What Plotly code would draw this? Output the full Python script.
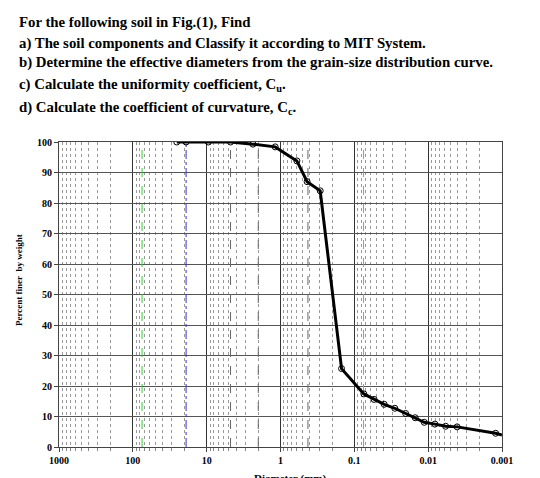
import plotly.graph_objects as go

# ---- data ----
diameter_mm = [25.4, 19.0, 9.5, 4.75, 2.36, 1.18, 0.6, 0.436, 0.29, 0.149,
               0.0743, 0.054, 0.0394, 0.0283, 0.0202, 0.015, 0.0113, 0.0081,
               0.0058, 0.00405, 0.00122]
percent_finer = [100, 100, 100, 100, 99.3, 98.4, 93.8, 87.0, 84.0, 25.7,
                 17.4, 15.6, 14.0, 12.7, 11.0, 9.6, 8.1, 7.5, 6.8, 6.6, 4.5]
curve_end_diameter = [0.001]
curve_end_percent = [3.9]

sieve_sizes = [75, 19, 4.75, 2.0, 0.425, 0.075]
sieve_colors = ["#33cc33", "#3333cc", "#666666", "#666666", "#666666", "#999999"]
sieve_dashes = ["dash", "dashdot", "dash", "dash", "dash", "dash"]

x_tick_vals = [1000, 100, 10, 1, 0.1, 0.01, 0.001]
x_tick_text = ["1000", "100", "10", "1", "0.1", "0.01", "0.001"]
decades = [100, 10, 1, 0.1, 0.01, 0.001]
minor_steps = [2, 3, 4, 5, 6, 7, 8, 9]
y_tick_vals = [0, 10, 20, 30, 40, 50, 60, 70, 80, 90, 100]

question_lines = [
    "For the following soil in Fig.(1), Find",
    "a) The soil components and Classify it according to MIT System.",
    "b) Determine the effective diameters from the grain-size distribution curve.",
    "c) Calculate the uniformity coefficient, C<sub>u</sub>.",
    "d) Calculate the coefficient of curvature, C<sub>c</sub>.",
]
question_y_px = [22, 43, 63, 85, 108]

minor_vals = [d * s for d in decades for s in minor_steps]

SERIF = "Liberation Serif, Times New Roman, serif"
OFF = 8  # page body margin
W, H = 540 - OFF, 478 - OFF
L, R, T, B = 59 - OFF, 38, 142 - OFF, 31
plot_w = W - L - R
plot_h = H - T - B


def px_x(x):
    return (x - OFF - L) / plot_w


def px_y(y):
    return (H - B - (y - OFF)) / plot_h


fig = go.Figure()

for s, c, d in zip(sieve_sizes, sieve_colors, sieve_dashes):
    fig.add_trace(go.Scatter(x=[s, s], y=[0, 100], mode="lines",
                             line=dict(color=c, width=1, dash=d),
                             hoverinfo="skip", showlegend=False))

fig.add_trace(go.Scatter(x=diameter_mm + curve_end_diameter,
                         y=percent_finer + curve_end_percent,
                         mode="lines", line=dict(color="black", width=3),
                         showlegend=False))
fig.add_trace(go.Scatter(x=diameter_mm, y=percent_finer, mode="markers",
                         marker=dict(symbol="circle-open", size=6, color="black",
                                     line=dict(width=1, color="black")),
                         showlegend=False))

for txt, ypx in zip(question_lines, question_y_px):
    fig.add_annotation(text="<b>" + txt + "</b>", xref="paper", yref="paper",
                       x=px_x(17), y=px_y(ypx),
                       xanchor="left", yanchor="middle", showarrow=False,
                       font=dict(family=SERIF, size=14.8, color="black"))

fig.add_annotation(text="<b>Percent finer  by weight</b>", xref="paper", yref="paper",
                   x=px_x(19), y=px_y(280), textangle=-90,
                   xanchor="center", yanchor="middle", showarrow=False,
                   font=dict(family=SERIF, size=9, color="black"))
fig.add_annotation(text="<b>Diameter (mm)</b>", xref="paper", yref="paper",
                   x=px_x(290), y=px_y(470),
                   xanchor="center", yanchor="top", showarrow=False,
                   font=dict(family=SERIF, size=11, color="black"))

fig.update_xaxes(type="log", range=[3, -3], tickvals=x_tick_vals, ticktext=x_tick_text,
                 showgrid=True, gridcolor="#333333", gridwidth=1,
                 ticks="outside", ticklen=4, tickcolor="#444444",
                 minor=dict(tickvals=minor_vals, showgrid=True, gridcolor="#999999",
                            griddash="dot", gridwidth=1, ticks="outside", ticklen=3,
                            tickcolor="#888888"),
                 showline=True, linecolor="#444444", linewidth=1, mirror=True,
                 zeroline=False,
                 tickfont=dict(family=SERIF, size=10, color="black", weight="bold"))
fig.update_yaxes(range=[0, 100], tickvals=y_tick_vals,
                 showgrid=True, gridcolor="#555555", gridwidth=1,
                 ticks="outside", ticklen=4, tickcolor="#444444",
                 showline=True, linecolor="#444444", linewidth=1, mirror=True,
                 zeroline=False,
                 tickfont=dict(family=SERIF, size=10, color="black", weight="bold"))

fig.update_layout(width=W, height=H, margin=dict(l=L, r=R, t=T, b=B),
                  plot_bgcolor="white", paper_bgcolor="white", showlegend=False)

fig.write_html("out.html")
